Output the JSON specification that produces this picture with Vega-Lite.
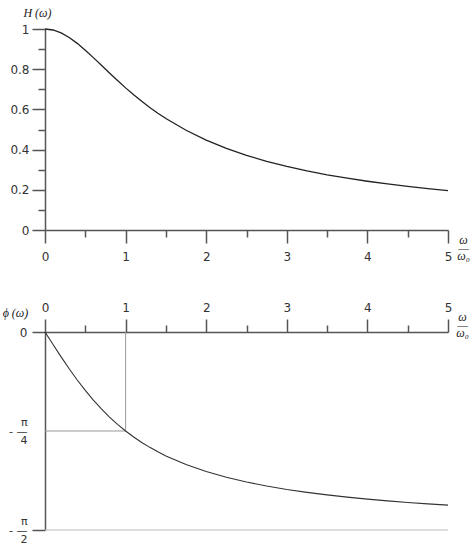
{
  "$schema": "https://vega.github.io/schema/vega-lite/v6.json",
  "description": "Amplitude and phase response of a first-order low-pass",
  "autosize": "pad",
  "padding": {"left": 2, "top": 6, "right": 5, "bottom": 2},
  "background": "white",
  "datasets": {
    "curve": [
      {"w": 0, "H": 1, "phi": 0},
      {"w": 0.1, "H": 0.995, "phi": -0.0997},
      {"w": 0.2, "H": 0.9806, "phi": -0.1974},
      {"w": 0.3, "H": 0.9578, "phi": -0.2915},
      {"w": 0.4, "H": 0.9285, "phi": -0.3805},
      {"w": 0.5, "H": 0.8944, "phi": -0.4636},
      {"w": 0.6, "H": 0.8575, "phi": -0.5404},
      {"w": 0.7, "H": 0.8192, "phi": -0.6107},
      {"w": 0.8, "H": 0.7809, "phi": -0.6747},
      {"w": 0.9, "H": 0.7433, "phi": -0.7328},
      {"w": 1.0, "H": 0.7071, "phi": -0.7854},
      {"w": 1.1, "H": 0.6727, "phi": -0.833},
      {"w": 1.2, "H": 0.6402, "phi": -0.8761},
      {"w": 1.3, "H": 0.6097, "phi": -0.9151},
      {"w": 1.4, "H": 0.5812, "phi": -0.9505},
      {"w": 1.5, "H": 0.5547, "phi": -0.9828},
      {"w": 1.75, "H": 0.4961, "phi": -1.0517},
      {"w": 2.0, "H": 0.4472, "phi": -1.1071},
      {"w": 2.25, "H": 0.4061, "phi": -1.1526},
      {"w": 2.5, "H": 0.3714, "phi": -1.1903},
      {"w": 2.75, "H": 0.3417, "phi": -1.222},
      {"w": 3.0, "H": 0.3162, "phi": -1.249},
      {"w": 3.25, "H": 0.2941, "phi": -1.2723},
      {"w": 3.5, "H": 0.2747, "phi": -1.2925},
      {"w": 3.75, "H": 0.2577, "phi": -1.3102},
      {"w": 4.0, "H": 0.2425, "phi": -1.3258},
      {"w": 4.25, "H": 0.229, "phi": -1.3397},
      {"w": 4.5, "H": 0.2169, "phi": -1.3521},
      {"w": 4.75, "H": 0.206, "phi": -1.3633},
      {"w": 5.0, "H": 0.1961, "phi": -1.3734}
    ],
    "guides": [
      {"w": 1, "w2": 1, "phi": 0, "phi2": -0.7854},
      {"w": 0, "w2": 1, "phi": -0.7854, "phi2": -0.7854}
    ],
    "asymptote": [
      {"w": 0, "w2": 5, "phi": -1.5708, "phi2": -1.5708}
    ]
  },
  "config": {
    "view": {"stroke": null},
    "axis": {
      "grid": false,
      "domainColor": "#555",
      "domainWidth": 1.5,
      "tickColor": "#555",
      "tickWidth": 1.5,
      "tickSize": 13,
      "labelFont": "DejaVu Sans",
      "labelFontSize": 12,
      "labelColor": "#333",
      "labelFlush": false,
      "labelOverlap": false,
      "titleFont": "Liberation Serif",
      "titleFontStyle": "italic",
      "titleFontWeight": "normal",
      "titleFontSize": 12,
      "titleColor": "#222",
      "titleAngle": 0,
      "titleAlign": "center",
      "titleBaseline": "middle"
    }
  },
  "vconcat": [
    {
      "width": 403,
      "height": 201,
      "data": {"name": "curve"},
      "layer": [
        {
          "mark": {"type": "line", "color": "#222", "strokeWidth": 1.3},
          "encoding": {
            "x": {
              "field": "w",
              "type": "quantitative",
              "scale": {"domain": [0, 5], "nice": false},
              "axis": {
                "orient": "bottom",
                "values": [0, 1, 2, 3, 4, 5],
                "format": "~g",
                "labelPadding": 8,
                "title": ["ω", "—", "ω₀"],
                "titleLineHeight": 8,
                "titleX": 418,
                "titleY": 9
              }
            },
            "y": {
              "field": "H",
              "type": "quantitative",
              "scale": {"domain": [0, 1], "nice": false},
              "axis": {
                "orient": "left",
                "values": [0, 0.2, 0.4, 0.6, 0.8, 1],
                "format": "~g",
                "labelPadding": 3,
                "title": "H (ω)",
                "titleX": -8,
                "titleY": -17
              }
            }
          }
        },
        {
          "mark": {"type": "line", "opacity": 0},
          "encoding": {
            "x": {
              "field": "w",
              "type": "quantitative",
              "axis": {
                "orient": "bottom",
                "values": [0.5, 1.5, 2.5, 3.5, 4.5],
                "tickSize": 7,
                "domain": false,
                "labels": false,
                "title": null
              }
            },
            "y": {
              "field": "H",
              "type": "quantitative",
              "axis": {
                "orient": "left",
                "values": [0.1, 0.3, 0.5, 0.7, 0.9],
                "tickSize": 7,
                "domain": false,
                "labels": false,
                "title": null
              }
            }
          }
        }
      ],
      "resolve": {"axis": {"x": "independent", "y": "independent"}}
    },
    {
      "width": 403,
      "height": 198,
      "layer": [
        {
          "layer": [
            {
              "data": {"name": "asymptote"},
              "mark": {"type": "rule", "color": "#bbb", "strokeWidth": 1.2},
              "encoding": {
                "x2": {"field": "w2"},
                "y2": {"field": "phi2"}
              }
            },
            {
              "data": {"name": "guides"},
              "mark": {"type": "rule", "color": "#999", "strokeWidth": 1},
              "encoding": {
                "x2": {"field": "w2"},
                "y2": {"field": "phi2"}
              }
            },
            {
              "data": {"name": "curve"},
              "mark": {"type": "line", "color": "#333", "strokeWidth": 1.1}
            }
          ],
          "encoding": {
            "x": {
              "field": "w",
              "type": "quantitative",
              "scale": {"domain": [0, 5], "nice": false},
              "axis": {
                "orient": "top",
                "values": [0, 1, 2, 3, 4, 5],
                "format": "~g",
                "labelPadding": 5,
                "title": ["ω", "—", "ω₀"],
                "titleLineHeight": 8,
                "titleX": 417,
                "titleY": -16
              }
            },
            "y": {
              "field": "phi",
              "type": "quantitative",
              "scale": {"domain": [-1.5708, 0], "nice": false},
              "axis": {
                "orient": "left",
                "values": [0, -1.5708],
                "tickSize": 13,
                "labelExpr": "datum.value == 0 ? '0\u00a0' : ''",
                "labelPadding": 5,
                "title": "ϕ (ω)",
                "titleX": -30,
                "titleY": -20
              }
            }
          }
        },
        {
          "data": {"name": "curve"},
          "mark": {"type": "line", "opacity": 0},
          "encoding": {
            "x": {
              "field": "w",
              "type": "quantitative",
              "axis": {
                "orient": "top",
                "values": [0.5, 1.5, 2.5, 3.5, 4.5],
                "tickSize": 7,
                "domain": false,
                "labels": false,
                "title": null
              }
            },
            "y": {
              "field": "phi",
              "type": "quantitative",
              "axis": {
                "orient": "left",
                "values": [-0.7854, -1.5708],
                "tickSize": 13,
                "tickOpacity": 0,
                "domain": false,
                "labelExpr": "datum.value > -1 ? ['π\u00a0', '-\u00a0—', '4\u00a0'] : ['π\u00a0', '-\u00a0—', '2\u00a0']",
                "labelLineHeight": 9,
                "labelFontSize": 11,
                "labelOffset": -9,
                "labelPadding": 5,
                "title": null
              }
            }
          }
        }
      ],
      "resolve": {"axis": {"x": "independent", "y": "independent"}}
    }
  ],
  "spacing": 102,
  "bounds": "flush"
}
